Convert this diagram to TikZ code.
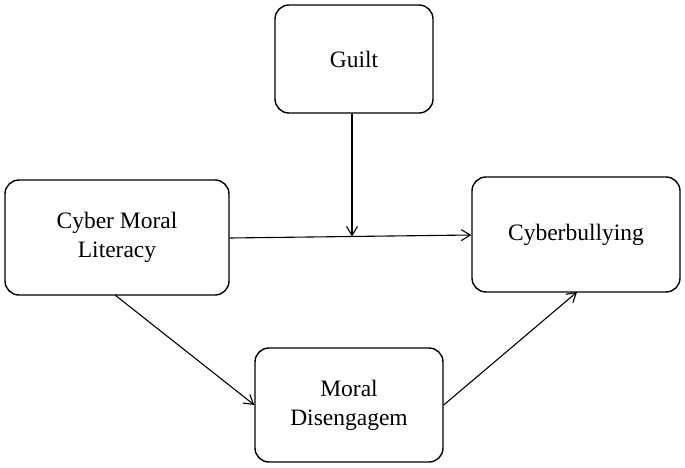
\documentclass[tikz,border=0pt]{standalone}
\usepackage{fontspec}
\setmainfont{Liberation Serif}
\usetikzlibrary{arrows.meta}
\begin{document}
\begin{tikzpicture}[x=1pt,y=-1pt,
  box/.style={draw,line width=1.4pt,rounded corners=14pt,align=center,font=\fontsize{23.5}{29}\selectfont,inner sep=0pt},
  arr/.style={-{Straight Barb[length=9pt,width=11pt]},line width=1.1pt}]
\useasboundingbox (0,0) rectangle (685,468);
\node[box,minimum width=158pt,minimum height=108pt] (g) at (354,59) {Guilt};
\node[box,minimum width=224pt,minimum height=115pt] (c) at (117,237.5) {Cyber Moral\\Literacy};
\node[box,minimum width=208pt,minimum height=115pt] (b) at (576,234.5) {Cyberbullying};
\node[box,minimum width=188pt,minimum height=114pt] (m) at (349,405) {Moral\\Disengagem};
\coordinate (j) at (352,236.5);
\draw[arr] (c.east |- 0,238) -- (b.west |- 0,235);
\draw[arr] (g.south -| j) -- (j);
\draw[arr] (115,295) -- (m.west |- 0,405);
\draw[arr] (m.east |- 0,405) -- (577,292);
\end{tikzpicture}
\end{document}
